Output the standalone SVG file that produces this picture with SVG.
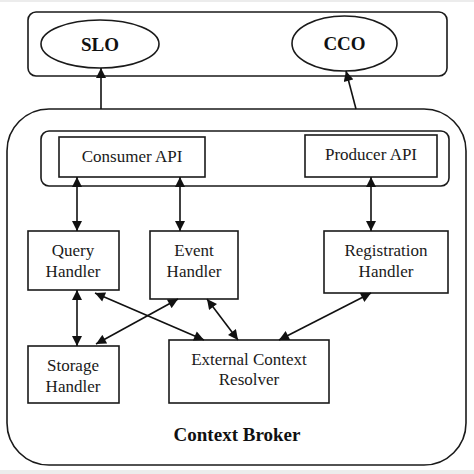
<svg xmlns="http://www.w3.org/2000/svg" width="474" height="474" viewBox="0 0 474 474">
<style>
.box{fill:#fff;stroke:#1a1a1a;stroke-width:1.6}
.t{font-family:"Liberation Serif","Times New Roman",serif;font-size:17px;fill:#1a1a1a;text-anchor:middle}
.b{font-family:"Liberation Serif","Times New Roman",serif;font-size:19px;font-weight:bold;fill:#111;text-anchor:middle}
.c{stroke:#111;stroke-width:1.6;fill:none}
</style>
<defs>
<marker id="ah" viewBox="0 0 10 10" refX="10" refY="5" markerWidth="11" markerHeight="10" markerUnits="userSpaceOnUse" orient="auto-start-reverse">
<path d="M0,0 L10,5 L0,10 z" fill="#111"/>
</marker>
</defs>
<rect width="474" height="474" fill="#fff"/>
<rect x="0" y="0" width="474" height="2" fill="#ececec"/>
<rect x="0" y="470" width="474" height="4" fill="#ececec"/>
<g id="container-top"><rect class="box" x="28" y="12" width="419" height="64" rx="8"/></g>
<g id="context-broker"><rect class="box" x="7" y="109" width="459" height="356" rx="42"/>
<text class="b" x="237" y="441">Context Broker</text></g>
<g id="slo"><ellipse class="box" cx="100" cy="44" rx="59" ry="24"/><text class="b" x="100" y="51">SLO</text></g>
<g id="cco"><ellipse class="box" cx="344.5" cy="43.5" rx="52.5" ry="27.5"/><text class="b" x="344.5" y="50">CCO</text></g>
<g id="api-group"><rect class="box" x="41" y="131" width="408" height="55" rx="8"/></g>
<g id="consumer-api"><rect class="box" x="59" y="137" width="146" height="40"/><text class="t" x="132" y="162">Consumer API</text></g>
<g id="producer-api"><rect class="box" x="305" y="135" width="132" height="42"/><text class="t" x="371" y="160">Producer API</text></g>
<g id="query-handler"><rect class="box" x="28" y="231" width="91" height="59"/><text class="t" x="73" y="256">Query</text><text class="t" x="73" y="277">Handler</text></g>
<g id="event-handler"><rect class="box" x="150" y="231" width="88" height="68"/><text class="t" x="194" y="256">Event</text><text class="t" x="194" y="277">Handler</text></g>
<g id="registration-handler"><rect class="box" x="324" y="231" width="124" height="62"/><text class="t" x="386" y="256">Registration</text><text class="t" x="386" y="277">Handler</text></g>
<g id="storage-handler"><rect class="box" x="28" y="346" width="91" height="57"/><text class="t" x="73" y="371">Storage</text><text class="t" x="73" y="392">Handler</text></g>
<g id="external-context-resolver"><rect class="box" x="169" y="340" width="160" height="63"/><text class="t" x="249" y="365">External Context</text><text class="t" x="249" y="385">Resolver</text></g>
<g id="connectors">
<line class="c" x1="101" y1="109" x2="101" y2="68" marker-end="url(#ah)"/>
<line class="c" x1="356" y1="109" x2="346" y2="71" marker-end="url(#ah)"/>
<line class="c" x1="77" y1="177" x2="77" y2="231" marker-start="url(#ah)" marker-end="url(#ah)"/>
<line class="c" x1="180" y1="177" x2="180" y2="231" marker-start="url(#ah)" marker-end="url(#ah)"/>
<line class="c" x1="371" y1="177" x2="371" y2="231" marker-start="url(#ah)" marker-end="url(#ah)"/>
<line class="c" x1="77" y1="290" x2="77" y2="346" marker-start="url(#ah)" marker-end="url(#ah)"/>
<line class="c" x1="95" y1="293" x2="204" y2="340" marker-start="url(#ah)" marker-end="url(#ah)"/>
<line class="c" x1="178" y1="299" x2="96" y2="344" marker-start="url(#ah)" marker-end="url(#ah)"/>
<line class="c" x1="207" y1="299" x2="238" y2="340" marker-start="url(#ah)" marker-end="url(#ah)"/>
<line class="c" x1="371" y1="293" x2="279" y2="340" marker-start="url(#ah)" marker-end="url(#ah)"/>
</g>
</svg>
